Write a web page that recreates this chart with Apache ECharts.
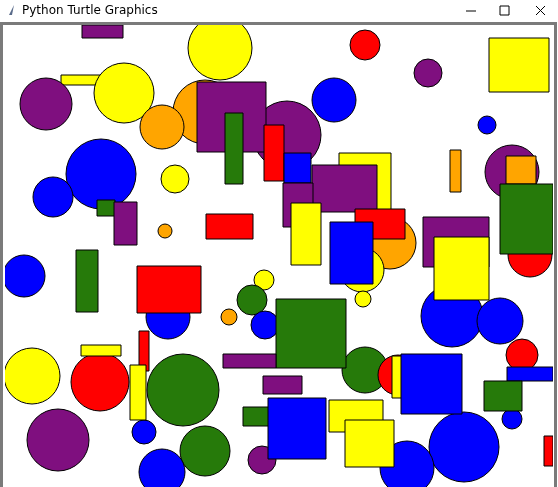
<!DOCTYPE html>
<html>
<head>
<meta charset="utf-8">
<script src="https://cdn.jsdelivr.net/npm/echarts@6/dist/echarts.min.js"></script>
<style>html,body{margin:0;padding:0;background:#fff}#main{width:558px;height:487px}</style>
</head>
<body>
<div id="main"></div>
<script>
// shapes in drawing order: c = circle (x,y centre, w radius), r = rect (x,y top-left, w,h)
var shapeKind  = ['r','c','c','c','c','c','c','c','c','c','c','c','c','c','c','c','c','c','c','c','c','c','c','c','c','c','c','c','c','c','c','c','c','c','c','c','c','c','c','c','c','c',
                  'r','r','r','r','r','r','r','r','r','r','r','r','r','r','r','r','r','r','r','r','r','r','r','r','r','r','r','r','r','r','r','r','r','r','r','r','r'];
var shapeX     = [61,220,365,428,124,46,205,162,334,487,287,101,175,53,512,165,390,530,24,362,264,363,252,168,229,265,452,500,522,32,100,183,365,398,144,58,205,262,162,464,407,512,
                  82,489,197,225,264,284,339,312,283,450,506,500,97,114,206,355,423,434,291,330,76,137,276,81,139,223,130,263,392,401,507,484,243,268,329,345,544];
var shapeY     = [75,48,45,73,93,104,112,127,100,125,135,174,179,197,172,231,243,255,276,270,280,299,300,317,317,325,316,321,355,376,382,390,370,375,432,440,451,460,472,447,468,419,
                  25,38,82,113,125,153,153,165,183,150,156,184,200,202,214,209,217,237,203,222,250,266,299,345,331,354,365,376,356,354,367,381,407,398,400,420,436];
var shapeW     = [39,32,15,14,30,26,32,22,22,9,34,35,14,20,27,7,26,22,21,22,10,8,15,22,8,14,31,23,16,28,29,36,23,20,12,31,25,14,23,35,27,10,
                  41,60,69,18,20,27,52,65,30,11,30,53,18,23,47,50,66,55,30,43,22,64,70,40,10,53,16,39,10,61,46,38,27,58,54,49,9];
var shapeH     = [10,0,0,0,0,0,0,0,0,0,0,0,0,0,0,0,0,0,0,0,0,0,0,0,0,0,0,0,0,0,0,0,0,0,0,0,0,0,0,0,0,0,
                  13,54,70,71,56,30,57,47,44,42,28,70,16,43,25,30,50,63,62,62,62,47,69,11,40,14,55,18,42,60,14,30,19,61,32,47,30];
var shapeColor = ['yellow','yellow','red','purple','yellow','purple','orange','orange','blue','blue','purple','blue','yellow','blue','purple','orange','orange','red','blue','yellow','yellow','yellow','green','blue','orange','blue','blue','blue','red','yellow','red','green','green','red','blue','purple','green','purple','blue','blue','blue','blue',
                  'purple','yellow','purple','green','red','blue','yellow','purple','purple','orange','orange','green','green','purple','red','red','purple','yellow','yellow','blue','green','red','green','yellow','red','purple','yellow','purple','yellow','blue','blue','green','green','blue','yellow','yellow','red'];

var colorMap = {red:'#ff0000', yellow:'#ffff00', blue:'#0000ff', green:'#267a0a', purple:'#7f0f7f', orange:'#ffa500'};
var data = [];
for (var i = 0; i < shapeKind.length; i++) {
    data.push([shapeX[i], shapeY[i], shapeW[i], shapeH[i], i]);
}

var chart = echarts.init(document.getElementById('main'));
chart.setOption({
    backgroundColor: '#fff',
    animation: false,
    grid: {left: 5, right: 5, top: 25, bottom: 0},
    xAxis: {type: 'value', min: 5, max: 553, show: false},
    yAxis: {type: 'value', min: 25, max: 487, inverse: true, show: false},
    graphic: [
        {type: 'rect', left: 0, top: 0, shape: {width: 558, height: 22}, style: {fill: '#fff'}, z: 10},
        {type: 'text', left: 22, top: 5, style: {text: 'Python Turtle Graphics', fill: '#000', font: '12px "DejaVu Sans"'}, z: 11},
        {type: 'polygon', shape: {points: [[9,15],[14,5],[12,15]]}, style: {fill: '#5a6b8a'}, z: 11},
        {type: 'line', shape: {x1: 466, y1: 11, x2: 476, y2: 11}, style: {stroke: '#000'}, z: 11},
        {type: 'rect', shape: {x: 500, y: 6, width: 9, height: 9}, style: {fill: 'none', stroke: '#000'}, z: 11},
        {type: 'line', shape: {x1: 536, y1: 6, x2: 545, y2: 15}, style: {stroke: '#000'}, z: 11},
        {type: 'line', shape: {x1: 545, y1: 6, x2: 536, y2: 15}, style: {stroke: '#000'}, z: 11},
        {type: 'rect', shape: {x: 1.5, y: 23.5, width: 554, height: 470}, style: {fill: 'none', stroke: '#7a7a7a', lineWidth: 3}, z: 11}
    ],
    series: [{
        type: 'custom',
        clip: true,
        data: data,
        renderItem: function (params, api) {
            var i = api.value(4);
            var p = api.coord([api.value(0), api.value(1)]);
            var style = {fill: colorMap[shapeColor[i]], stroke: '#000', lineWidth: 1};
            if (shapeKind[i] === 'c') {
                var r = api.size([api.value(2), 0])[0];
                return {type: 'circle', shape: {cx: p[0], cy: p[1], r: r}, style: style};
            }
            var s = api.size([api.value(2), api.value(3)]);
            return {type: 'rect', shape: {x: p[0], y: p[1], width: s[0], height: s[1]}, style: style};
        }
    }]
});
</script>
</body>
</html>
